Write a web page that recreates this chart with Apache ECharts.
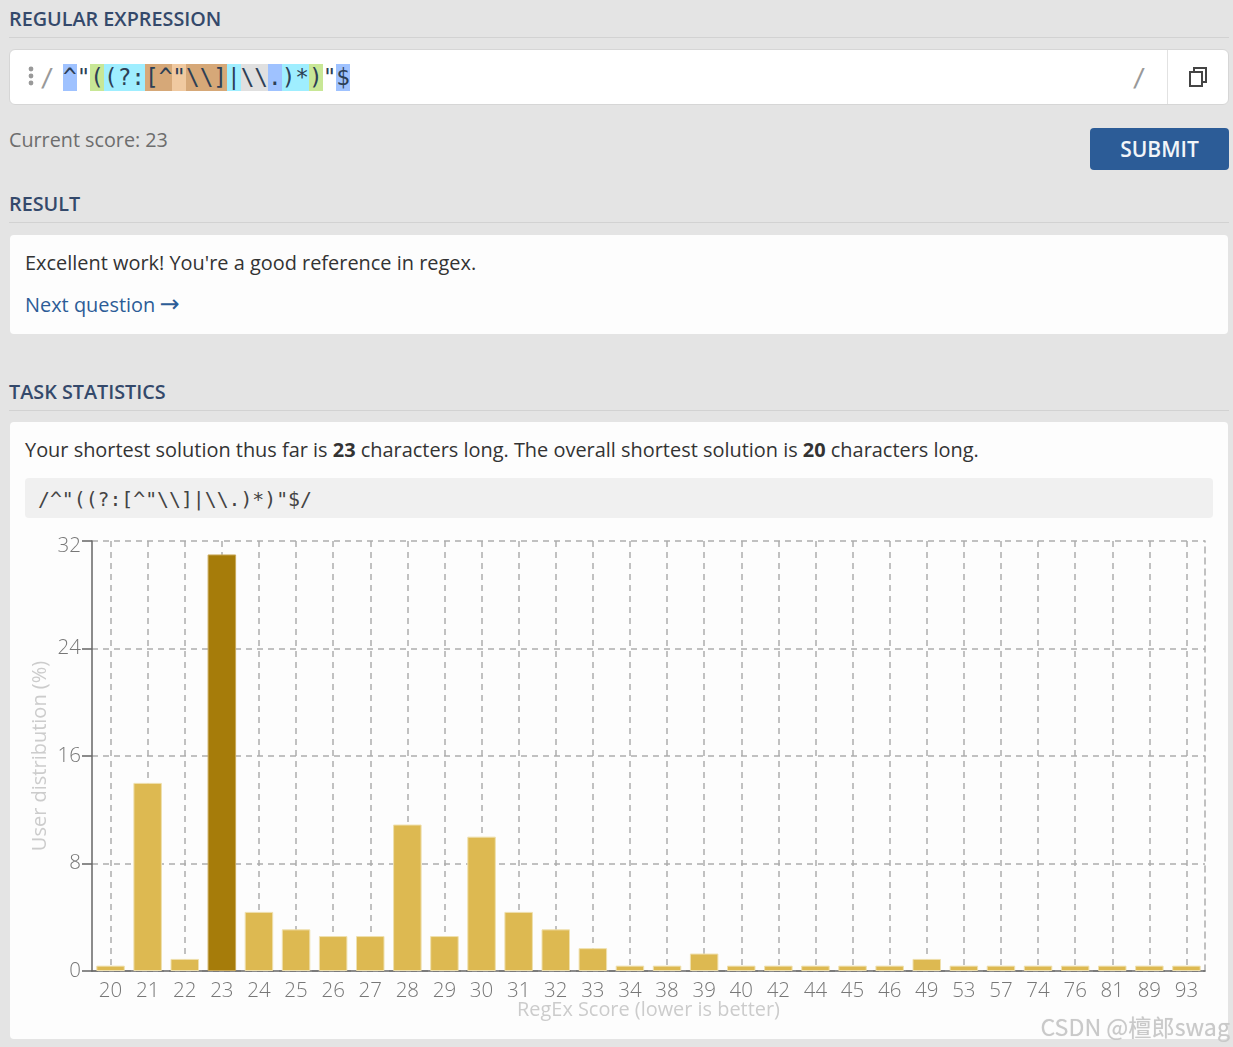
<!DOCTYPE html>
<html>
<head>
<meta charset="utf-8">
<script src="https://cdn.jsdelivr.net/npm/echarts@6/dist/echarts.min.js"></script>
<style>
  html, body { margin: 0; padding: 0; background: #e4e4e4; }
  body { width: 1233px; height: 1047px; position: relative; overflow: hidden; font-family: "Open Sans", sans-serif; color: #333; }
  .abs { position: absolute; white-space: nowrap; }
  .head { left: 9px; font-size: 19.8px; line-height: 24px; font-weight: 600; color: #34496b; }
  .rule { left: 9px; width: 1220px; height: 1px; background: #d2d2d2; }
  .card { background: #fdfdfd; border-radius: 4px; left: 10px; width: 1218px; }
  .text { font-size: 19.93px; line-height: 28px; }
  .mono { font-family: "DejaVu Sans Mono", monospace; }
  .rx span { display: inline-block; height: 27px; line-height: 27px; }
  .b { background: #9fc2ff; } .g { background: #c8e796; } .c { background: #9feeff; }
  .o { background: #d6a878; } .l { background: #f0c9a0; } .y { background: #e0e0e0; }
  #chart { left: 0; top: 520px; width: 1233px; height: 527px; }
</style>
</head>
<body>
  <div class="abs head" style="top:7px">REGULAR EXPRESSION</div>
  <div class="abs rule" style="top:37px"></div>

  <div class="abs" style="left:9px;top:49px;width:1218px;height:54px;background:#fff;border:1px solid #d6d6d6;border-radius:6px"></div>
  <svg class="abs" style="left:26px;top:66px" width="12" height="24"><circle cx="5" cy="3" r="2.4" fill="#999"/><circle cx="5" cy="10" r="2.4" fill="#999"/><circle cx="5" cy="17" r="2.4" fill="#999"/></svg>
  <div class="abs mono" style="left:40px;top:65px;font-size:24px;line-height:27px;color:#999">/</div>
  <div class="abs mono rx" style="left:63px;top:64px;font-size:22.7px;color:#2d3f55"><span class="b">^</span><span>"</span><span class="g">(</span><span class="c">(?:</span><span class="o">[^</span><span class="l">"</span><span class="o">\\]</span><span class="c">|</span><span class="y">\\</span><span class="b">.</span><span class="c">)*</span><span class="g">)</span><span>"</span><span class="b">$</span></div>
  <div class="abs mono" style="left:1132px;top:65px;font-size:24px;line-height:27px;color:#999">/</div>
  <div class="abs" style="left:1167px;top:50px;width:1px;height:54px;background:#e2e2e2"></div>
  <svg class="abs" style="left:1188px;top:66px" width="20" height="22" fill="#fff" stroke="#444" stroke-width="2"><rect x="6" y="2" width="12" height="14"/><rect x="2" y="6" width="12" height="14"/></svg>

  <div class="abs" style="left:9px;top:126px;font-size:19.75px;line-height:28px;color:#6d6d6d">Current score: 23</div>
  <div class="abs" style="left:1090px;top:128px;width:139px;height:42px;line-height:43px;background:#2c5c97;border-radius:4px;color:#f2f5f9;font-size:21px;font-weight:600;text-align:center">SUBMIT</div>

  <div class="abs head" style="top:192px">RESULT</div>
  <div class="abs rule" style="top:222px"></div>
  <div class="abs card" style="top:235px;height:99px"></div>
  <div class="abs text" style="left:25px;top:249px">Excellent work! You're a good reference in regex.</div>
  <div class="abs text" style="left:25px;top:291px;color:#2c5c97">Next question <span style="font-family:'DejaVu Sans',sans-serif;font-size:24px;line-height:0;margin-left:-1px">→</span></div>

  <div class="abs head" style="top:380px">TASK STATISTICS</div>
  <div class="abs rule" style="top:410px"></div>
  <div class="abs card" style="top:422px;height:617px"></div>
  <div class="abs text" style="left:25px;top:436px">Your shortest solution thus far is <b>23</b> characters long. The overall shortest solution is <b>20</b> characters long.</div>
  <div class="abs" style="left:25px;top:478px;width:1188px;height:40px;background:#f0f0f0;border-radius:4px"></div>
  <div class="abs mono" style="left:38px;top:486px;font-size:19.8px;line-height:27px;color:#444">/^"((?:[^"\\]|\\.)*)"$/</div>

  <div class="abs" id="chart"></div>
  <div class="abs" style="right:3px;top:1010px;font-size:23.2px;line-height:32px;color:#c9c9c9;font-family:'Noto Sans CJK SC',sans-serif;text-shadow:0 0 1px #ddd">CSDN @檀郎swag</div>

<script>
const scores = ["20", "21", "22", "23", "24", "25", "26", "27", "28", "29", "30", "31", "32", "33", "34", "38", "39", "40", "42", "44", "45", "46", "49", "53", "57", "74", "76", "81", "89", "93"];
const shares = [0.4, 14, 0.9, 31, 4.4, 3.1, 2.6, 2.6, 10.9, 2.6, 10, 4.4, 3.1, 1.7, 0.4, 0.4, 1.3, 0.4, 0.4, 0.4, 0.4, 0.4, 0.9, 0.4, 0.4, 0.4, 0.4, 0.4, 0.4, 0.4];
const currentScore = "23";
const yMax = 32;

const labelColor = "#777";
const nameColor = "#ccc";
const gridColor = "#adadad";
const axisColor = "#666";
const dash = [6, 5];

const chart = echarts.init(document.getElementById("chart"), null, { renderer: "canvas" });

chart.setOption({
  animation: false,
  grid: { left: 92, top: 21, width: 1113, height: 430 },
  xAxis: {
    type: "category",
    data: scores,
    name: "RegEx Score (lower is better)",
    nameLocation: "middle",
    nameGap: 29,
    nameMoveOverlap: false,
    nameTextStyle: { color: nameColor, fontSize: 19.9, fontFamily: "Open Sans" },
    axisLine: { lineStyle: { color: axisColor, width: 1.5 } },
    axisTick: { alignWithLabel: true, length: 9, lineStyle: { color: axisColor, width: 1.5 } },
    axisLabel: { color: labelColor, fontSize: 20.5, fontWeight: 300, margin: 10, interval: 0, fontFamily: "Open Sans" },
    splitLine: { show: true, alignWithLabel: true, lineStyle: { color: gridColor, type: dash, width: 1.5 } },
  },
  yAxis: [
    {
      type: "value",
      min: 0,
      max: yMax,
      interval: 8,
      name: "User distribution (%)",
      nameLocation: "middle",
      nameGap: 42,
      nameMoveOverlap: false,
      nameTextStyle: { color: nameColor, fontSize: 20, fontFamily: "Open Sans" },
      axisLine: { show: true, lineStyle: { color: axisColor, width: 1.5 } },
      axisTick: { show: true, length: 10, lineStyle: { color: axisColor, width: 1.5 } },
      axisLabel: {
        color: labelColor,
        fontSize: 20.5,
        fontWeight: 300,
        margin: 11,
        fontFamily: "Open Sans",
        // 最大刻度的文字稍微下移
        formatter: (value) => (value === yMax ? `{top|${value}}` : `${value}`),
        rich: { top: { color: labelColor, fontSize: 20.5, fontWeight: 300, fontFamily: "Open Sans", padding: [10, 0, 0, 0] } },
      },
      splitLine: { show: true, lineStyle: { color: gridColor, type: dash, width: 1.5 } },
    },
    {
      // 右侧虚线边框
      type: "value",
      position: "right",
      min: 0,
      max: yMax,
      interval: yMax,
      axisLine: { show: true, lineStyle: { color: gridColor, type: dash, width: 1.5 } },
      axisTick: { show: false },
      axisLabel: { show: false },
      splitLine: { show: false },
    },
  ],
  series: [
    {
      type: "bar",
      barWidth: 28.5,
      data: shares.map((value, i) => ({
        value,
        itemStyle: {
          color: scores[i] === currentScore ? "#a67c0a" : "#ddb951",
          borderColor: scores[i] === currentScore ? "#c9a95a" : "#efe0ae",
          borderWidth: 1,
        },
      })),
    },
  ],
});
</script>
</body>
</html>
